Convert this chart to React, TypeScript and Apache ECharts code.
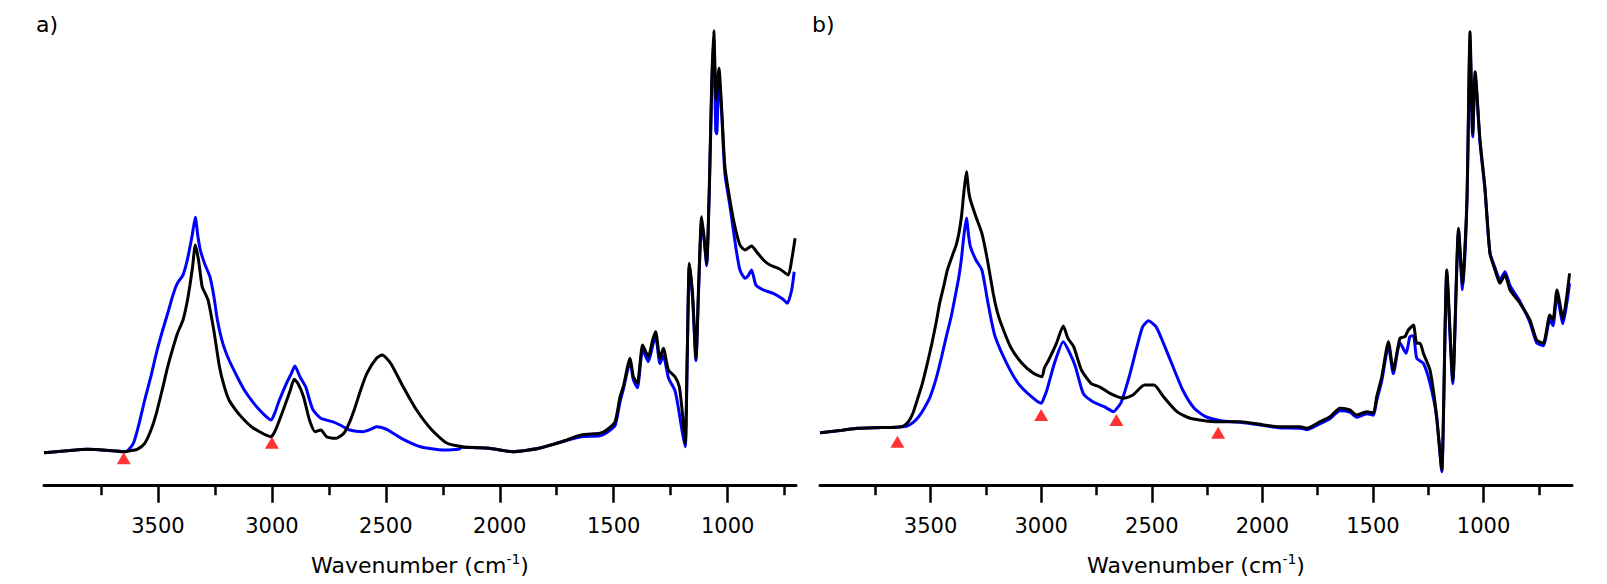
import React, { useEffect, useRef } from "react";
import * as echarts from "echarts";

// Axis ranges (wavenumber, cm-1, high to low) and tick values
const rangeA = [4000, 700];
const rangeB = [4000, 600];
const majorTicks = [3500, 3000, 2500, 2000, 1500, 1000];
const minorTicks = [3750, 3250, 2750, 2250, 1750, 1250, 750];

// Panel a) spectra: [wavenumber, absorbance (a.u.)]
const aBlue: [number, number][] = [
  [4000, 33], [3900, 35], [3810, 36.4], [3700, 35], [3641, 34], [3608, 42.4], [3585, 60], [3558, 85.7],
  [3530, 110], [3507, 132.4], [3480, 155], [3457, 172.4], [3435, 190], [3415, 202.4], [3390, 210.7],
  [3375, 222], [3365, 232.4], [3350, 250], [3336, 268.4], [3325, 250], [3314, 235.7], [3295, 222],
  [3272, 209], [3255, 190], [3239, 165.7], [3215, 142], [3188, 125.7], [3150, 108], [3121, 95.7],
  [3085, 84], [3054, 75.7], [3020, 68], [3003, 65.7], [2985, 74], [2970, 84], [2936, 102.4], [2915, 112],
  [2899, 119.7], [2877, 109], [2852, 99], [2835, 86], [2819, 75.7], [2785, 67.4], [2735, 64], [2701, 60.7],
  [2659, 55.7], [2600, 54], [2570, 56], [2541, 59], [2515, 58], [2491, 55.7], [2432, 47.4], [2348, 39],
  [2248, 35.7], [2181, 36.4], [2164, 38.5], [2100, 38], [2046, 37.4], [1945, 34], [1880, 35.5], [1828, 37.4],
  [1727, 44], [1643, 49], [1560, 50], [1531, 53], [1494, 60], [1472, 84], [1458, 96], [1428, 124], [1414, 106],
  [1396, 98], [1373, 136], [1348, 124], [1329, 140], [1316, 150], [1297, 122], [1282, 130], [1260, 108],
  [1231, 95], [1217, 79], [1200, 55], [1186, 39], [1177, 130], [1168, 220], [1154, 188], [1139, 125],
  [1127, 198], [1114, 265], [1102, 243], [1092, 220], [1080, 298], [1070, 395], [1061, 448], [1052, 355],
  [1048, 352], [1038, 412], [1026, 372], [1012, 312], [990, 280], [975, 255.7], [960, 232.4], [946, 215.7],
  [924, 207.4], [910, 210], [895, 215.7], [876, 200.7], [843, 195.7], [800, 192.4], [760, 187], [738, 182.4],
  [719, 195.7], [708, 214],
];

const aBlack: [number, number][] = [
  [4000, 33], [3900, 35], [3810, 36.4], [3700, 35], [3659, 34], [3620, 35], [3591, 36.4], [3558, 42.4],
  [3530, 56], [3507, 72.4], [3480, 97], [3457, 119], [3435, 137], [3415, 152], [3390, 165.7], [3373, 182.4],
  [3360, 200], [3348, 219], [3336, 240.7], [3322, 225.7], [3306, 199], [3292, 192], [3280, 185.7],
  [3255, 155.7], [3230, 119], [3210, 100], [3188, 85.7], [3150, 73], [3121, 65.7], [3090, 59], [3054, 54],
  [3020, 50], [3003, 49], [2990, 53], [2978, 59], [2945, 79], [2920, 95], [2902, 106.4], [2886, 102.4],
  [2861, 89], [2835, 65.7], [2810, 54], [2785, 55.7], [2760, 49], [2718, 47.4], [2684, 52.4], [2660, 63],
  [2634, 79], [2610, 96], [2583, 112.4], [2541, 127.4], [2516, 130.7], [2495, 127], [2474, 120.7],
  [2424, 99], [2365, 75.7], [2298, 55.7], [2231, 42.4], [2164, 39], [2100, 38], [2046, 37.4], [1945, 34],
  [1880, 35.5], [1828, 37.4], [1727, 44], [1643, 50.7], [1560, 52.4], [1531, 55.7], [1494, 64], [1472, 89],
  [1458, 99], [1428, 127.4], [1414, 109], [1396, 102.4], [1373, 140.7], [1348, 129], [1329, 145.7],
  [1316, 154], [1297, 127.4], [1282, 137.4], [1260, 115.7], [1231, 109], [1212, 99], [1197, 69], [1186, 42.4],
  [1177, 135.7], [1168, 222.4], [1154, 192.4], [1139, 127.4], [1127, 202.4], [1114, 269], [1102, 245.7],
  [1092, 222.4], [1080, 302.4], [1070, 402.4], [1061, 455], [1050, 385.7], [1038, 417.4], [1026, 375.7],
  [1012, 319], [990, 285.7], [968, 259], [946, 240.7], [924, 235.7], [895, 239.7], [873, 234], [843, 225.7],
  [814, 220.7], [770, 216.4], [734, 210.7], [719, 225.7], [704, 247.4],
];

// Panel b) spectra
const bBlue: [number, number][] = [
  [4000, 53], [3900, 55.5], [3831, 57.4], [3750, 58], [3658, 58.4], [3606, 59.7], [3580, 63], [3554, 69],
  [3530, 77], [3502, 89], [3475, 107], [3450, 129], [3428, 150], [3407, 169], [3390, 188], [3372, 209],
  [3360, 228], [3350, 249], [3338, 267.4], [3328, 250], [3320, 239], [3295, 225.7], [3268, 215.7],
  [3243, 185.7], [3225, 165], [3208, 149], [3156, 122.4], [3104, 102.4], [3044, 89], [3000, 82.4], [2987, 88],
  [2974, 95.7], [2940, 122.4], [2900, 144], [2870, 132.4], [2845, 119], [2810, 92.4], [2766, 84], [2715, 79],
  [2672, 74], [2655, 78], [2637, 84], [2602, 109], [2567, 139], [2541, 159], [2515, 165], [2481, 159],
  [2447, 142.4], [2404, 119], [2360, 95.7], [2308, 77.4], [2256, 69], [2187, 65], [2101, 63.5], [2000, 60.5],
  [1928, 58], [1830, 57.5], [1800, 56], [1739, 62], [1694, 67], [1649, 75], [1604, 73.5], [1574, 68.5],
  [1528, 72], [1498, 70.5], [1483, 85], [1460, 105], [1430, 140], [1408, 112], [1378, 143], [1350, 132.4],
  [1333, 149], [1317, 150], [1302, 127.4], [1272, 122.4], [1242, 102.4], [1212, 69], [1189, 14], [1166, 212],
  [1139, 102], [1113, 254], [1095, 196], [1075, 283], [1061, 445], [1049, 349], [1038, 410], [1016, 343],
  [994, 297], [971, 233], [948, 218], [926, 206], [903, 214], [880, 200], [835, 184], [790, 163], [760, 143],
  [730, 140], [700, 166], [686, 160], [668, 190], [641, 162], [611, 202.4],
];

const bBlack: [number, number][] = [
  [4000, 53], [3900, 55.5], [3831, 57.4], [3750, 58], [3658, 58.4], [3623, 59.7], [3600, 64], [3580, 72.4],
  [3560, 86], [3537, 102.4], [3515, 122], [3494, 142.4], [3475, 163], [3459, 182.4], [3440, 200],
  [3424, 215.7], [3398, 232.4], [3385, 240], [3372, 252.4], [3360, 270], [3350, 292.4], [3338, 314],
  [3328, 295], [3320, 285.7], [3295, 269], [3268, 252.4], [3243, 225.7], [3217, 192.4], [3200, 175],
  [3182, 162.4], [3139, 139], [3087, 122.4], [3035, 112.4], [2997, 109], [2985, 118], [2966, 125.7],
  [2931, 142.4], [2900, 159.7], [2879, 147.4], [2853, 139], [2818, 115.7], [2775, 102.4], [2732, 98.4],
  [2689, 92.4], [2628, 87.4], [2585, 90.7], [2533, 100.7], [2490, 100.7], [2447, 89], [2386, 74],
  [2326, 67.4], [2260, 65], [2205, 64], [2101, 64], [2000, 61], [1928, 59], [1830, 59], [1800, 57.4],
  [1739, 64], [1694, 69], [1649, 77.4], [1604, 75.7], [1574, 70.7], [1528, 74], [1498, 72.7], [1483, 89],
  [1460, 109], [1430, 144], [1408, 115.7], [1378, 147.4], [1355, 149], [1340, 155.7], [1317, 160.7],
  [1302, 142.4], [1287, 142.4], [1272, 132.4], [1242, 115.7], [1219, 82.4], [1205, 52.4], [1189, 15.7],
  [1166, 215.7], [1139, 105.7], [1113, 257.4], [1095, 202.4], [1075, 285.7], [1061, 454], [1049, 352.4],
  [1038, 414], [1016, 345.7], [994, 299], [971, 232.4], [948, 215.7], [926, 202.4], [903, 210.7],
  [880, 195.7], [835, 182.4], [790, 165.7], [760, 145.7], [730, 142.4], [700, 170.7], [686, 165.7],
  [668, 195.7], [641, 167.4], [611, 212.4],
];

// Red triangle markers
const markersA: [number, number][] = [[3650, 27.5], [3000, 43]];
const markersB: [number, number][] = [[3650, 44], [3000, 70.7], [2660, 65.7], [2200, 53]];

const FONT = "DejaVu Sans";
const AXIS_Y = 485.7;
const GRID_TOP = 20;
const Y_MAX = AXIS_Y - GRID_TOP;

function xAxes(gridIndex: number, range: number[]) {
  const lo = Math.min(range[0], range[1]);
  const hi = Math.max(range[0], range[1]);
  const major = {
    type: "value",
    gridIndex,
    min: lo,
    max: hi,
    inverse: true,
    position: "bottom",
    axisLine: { show: true, onZero: false, lineStyle: { color: "#000", width: 3 } },
    axisTick: { show: true, inside: false, length: 17, customValues: majorTicks, lineStyle: { color: "#000", width: 2.5 } },
    axisLabel: {
      show: true,
      customValues: majorTicks,
      formatter: (v: number) => String(v),
      margin: 30,
      color: "#000",
      fontSize: 21,
      fontFamily: FONT,
    },
    splitLine: { show: false },
    name: "{n|Wavenumber (cm}{s|-1}{n|)}",
    nameLocation: "middle",
    nameGap: 66,
    nameTextStyle: {
      rich: {
        n: { fontSize: 22, fontFamily: FONT, color: "#000", lineHeight: 28, verticalAlign: "middle" },
        s: { fontSize: 14, fontFamily: FONT, color: "#000", lineHeight: 14, verticalAlign: "top" },
      },
    },
  };
  const minor = {
    type: "value",
    gridIndex,
    min: lo,
    max: hi,
    inverse: true,
    position: "bottom",
    axisLine: { show: false, onZero: false },
    axisTick: { show: true, inside: false, length: 9.5, customValues: minorTicks, lineStyle: { color: "#000", width: 2.5 } },
    axisLabel: { show: false },
    splitLine: { show: false },
  };
  return [major, minor];
}

function lineSeries(data: [number, number][], color: string, xAxisIndex: number, yAxisIndex: number, z: number) {
  return {
    type: "line",
    data,
    xAxisIndex,
    yAxisIndex,
    showSymbol: false,
    symbol: "none",
    smooth: 0.2,
    z,
    lineStyle: { color, width: 3 },
  };
}

function markerSeries(data: [number, number][], xAxisIndex: number, yAxisIndex: number) {
  return {
    type: "scatter",
    data,
    xAxisIndex,
    yAxisIndex,
    symbol: "triangle",
    symbolSize: [14, 12],
    itemStyle: { color: "#ff0000" },
    z: 5,
  };
}

export default function App() {
  const ref = useRef<HTMLDivElement>(null);
  useEffect(() => {
    document.body.style.margin = "0";
    const chart = echarts.init(ref.current!, null, { renderer: "svg" });
    const option: any = {
      animation: false,
      backgroundColor: "#fff",
      grid: [
        { left: 44, width: 752, top: GRID_TOP, height: Y_MAX },
        { left: 820, width: 752, top: GRID_TOP, height: Y_MAX },
      ],
      xAxis: [...xAxes(0, rangeA), ...xAxes(1, rangeB)],
      yAxis: [
        { type: "value", gridIndex: 0, min: 0, max: Y_MAX, show: false },
        { type: "value", gridIndex: 1, min: 0, max: Y_MAX, show: false },
      ],
      graphic: [
        { type: "text", left: 36, top: 13, style: { text: "a)", fontSize: 22, fontFamily: FONT, fill: "#000" } },
        { type: "text", left: 812, top: 13, style: { text: "b)", fontSize: 22, fontFamily: FONT, fill: "#000" } },
      ],
      series: [
        lineSeries(aBlue, "#0000ff", 0, 0, 2),
        lineSeries(aBlack, "#000000", 0, 0, 3),
        markerSeries(markersA, 0, 0),
        lineSeries(bBlue, "#0000ff", 2, 1, 2),
        lineSeries(bBlack, "#000000", 2, 1, 3),
        markerSeries(markersB, 2, 1),
      ],
    };
    chart.setOption(option);
    return () => chart.dispose();
  }, []);
  return <div ref={ref} style={{ width: 1607, height: 584 }} />;
}
